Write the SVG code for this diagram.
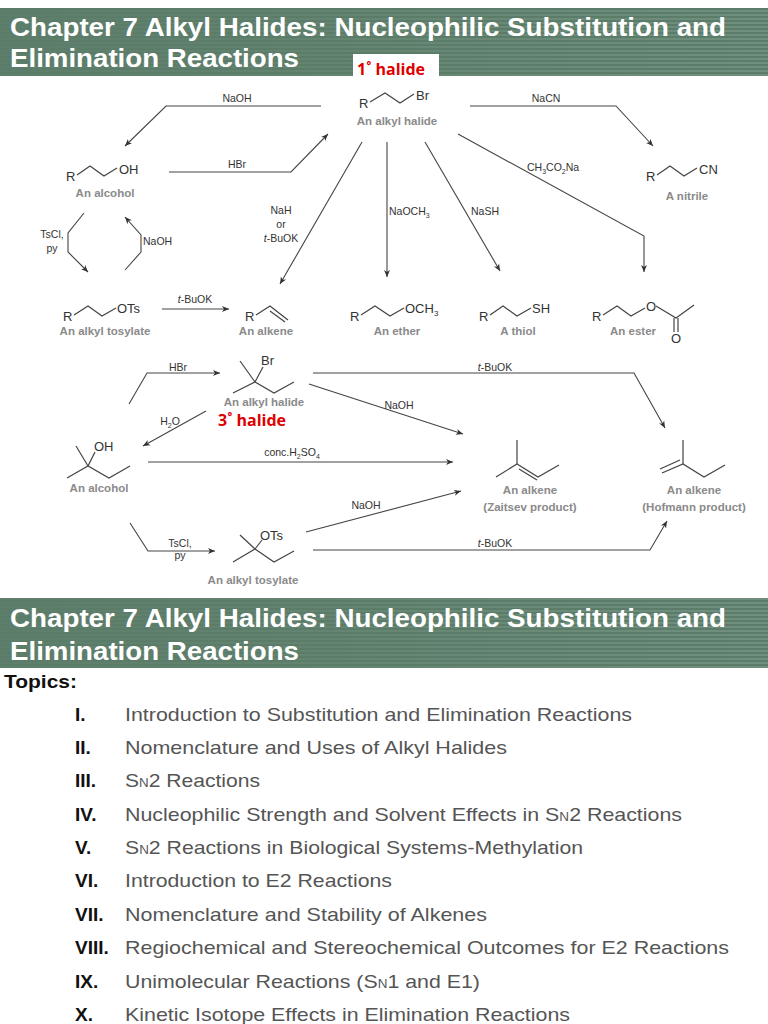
<svg xmlns="http://www.w3.org/2000/svg" width="768" height="1024" viewBox="0 0 768 1024">
<defs>
<pattern id="str" width="8" height="4" patternUnits="userSpaceOnUse"><rect width="8" height="4" fill="#5b7c69"/><rect y="2.5" width="8" height="1" fill="#86a293"/></pattern>
<linearGradient id="fade" x1="0" x2="1"><stop offset="0" stop-color="#5b7c69" stop-opacity="0.9"/><stop offset="0.4" stop-color="#5b7c69" stop-opacity="0.6"/><stop offset="1" stop-color="#5b7c69" stop-opacity="0"/></linearGradient>
<marker id="ah" markerWidth="8" markerHeight="8" refX="7" refY="4" orient="auto" markerUnits="userSpaceOnUse"><path d="M0,1 L7,4 L0,7 L2,4 Z" fill="#333"/></marker>
</defs>
<style>
.t{font-family:"Liberation Sans",Arial,sans-serif;font-weight:bold;fill:#fff;font-size:26px}
.lb{font-family:"Liberation Sans",Arial,sans-serif;font-size:10.5px;fill:#333}
.nm{font-family:"Liberation Sans",Arial,sans-serif;font-size:11.5px;font-weight:bold;fill:#8a8a8a;text-anchor:middle}
.at{font-family:"Liberation Sans",Arial,sans-serif;font-size:13px;fill:#333}
.red{font-family:"Open Sans","Liberation Sans",sans-serif;font-size:16px;font-weight:bold;fill:#e00000}
.bd{fill:none;stroke:#444;stroke-width:1.2}
.ar{fill:none;stroke:#444;stroke-width:1.1;marker-end:url(#ah)}
.tn{font-family:"Liberation Sans",Arial,sans-serif;font-size:19px;font-weight:bold;fill:#111}
.tx{font-family:"Liberation Sans",Arial,sans-serif;font-size:19px;fill:#555}
</style>
<rect width="768" height="1024" fill="#fff"/>
<g id="banner1">
<rect x="0" y="8" width="768" height="68" fill="url(#str)"/>
<rect x="0" y="8" width="768" height="68" fill="url(#fade)"/>
<text class="t" x="10" y="36" textLength="716" lengthAdjust="spacingAndGlyphs">Chapter 7 Alkyl Halides: Nucleophilic Substitution and</text>
<text class="t" x="10" y="67" textLength="289" lengthAdjust="spacingAndGlyphs">Elimination Reactions</text>
<rect x="353" y="54" width="86" height="26" fill="#fff"/>
<text class="red" x="357" y="75">1˚ halide</text>
</g>
<g id="connectors">
<polyline class="ar" points="321,106 166,106 125,146"/>
<polyline class="ar" points="169,172 291,172 328,134"/>
<polyline class="ar" points="470,106 616,106 653,146"/>
<polyline class="ar" points="362,142 280,284"/>
<polyline class="ar" points="387,142 387,277"/>
<polyline class="ar" points="425,142 500,271"/>
<polyline class="ar" points="458,134 644,236 644,272"/>
<polyline class="ar" points="84,213 68,233 68,252 88,272"/>
<polyline class="ar" points="125,270 141,252 141,235 125,217"/>
<polyline class="ar" points="162,309 229,309"/>
<polyline class="ar" points="129,404 147,373 220,373"/>
<polyline class="ar" points="206,411 143,446"/>
<polyline class="ar" points="148,462 453,462"/>
<polyline class="ar" points="309,384 463,434"/>
<polyline class="ar" points="313,373 634,373 665,428"/>
<polyline class="ar" points="130,523 148,551 215,551"/>
<polyline class="ar" points="306,532 461,491"/>
<polyline class="ar" points="313,550 650,550 667,521"/>
<text class="lb" x="237" y="102" text-anchor="middle">NaOH</text>
<text class="lb" x="237" y="168" text-anchor="middle">HBr</text>
<text class="lb" x="546" y="102" text-anchor="middle">NaCN</text>
<text class="lb" x="281" y="214" text-anchor="middle">NaH</text>
<text class="lb" x="281" y="228" text-anchor="middle">or</text>
<text class="lb" x="281" y="242" text-anchor="middle"><tspan font-style="italic">t</tspan>-BuOK</text>
<text class="lb" x="389" y="215">NaOCH<tspan font-size="7" dy="3">3</tspan></text>
<text class="lb" x="471" y="215">NaSH</text>
<text class="lb" x="527" y="171">CH<tspan font-size="7" dy="3">3</tspan><tspan dy="-3">CO</tspan><tspan font-size="7" dy="3">2</tspan><tspan dy="-3">Na</tspan></text>
<text class="lb" x="52" y="238" text-anchor="middle">TsCl,</text>
<text class="lb" x="52" y="252" text-anchor="middle">py</text>
<text class="lb" x="143" y="245">NaOH</text>
<text class="lb" x="195" y="303" text-anchor="middle"><tspan font-style="italic">t</tspan>-BuOK</text>
<text class="lb" x="178" y="371" text-anchor="middle">HBr</text>
<text class="lb" x="170" y="425" text-anchor="middle">H<tspan font-size="7" dy="3">2</tspan><tspan dy="-3">O</tspan></text>
<text class="lb" x="292" y="456" text-anchor="middle">conc.H<tspan font-size="7" dy="3">2</tspan><tspan dy="-3">SO</tspan><tspan font-size="7" dy="3">4</tspan></text>
<text class="lb" x="399" y="409" text-anchor="middle">NaOH</text>
<text class="lb" x="495" y="371" text-anchor="middle"><tspan font-style="italic">t</tspan>-BuOK</text>
<text class="lb" x="180" y="547" text-anchor="middle">TsCl,</text>
<text class="lb" x="180" y="559" text-anchor="middle">py</text>
<text class="lb" x="366" y="509" text-anchor="middle">NaOH</text>
<text class="lb" x="495" y="547" text-anchor="middle"><tspan font-style="italic">t</tspan>-BuOK</text>
</g>
<g id="alkyl-halide-1">
<text class="at" x="359" y="108">R</text>
<polyline class="bd" points="370,102 385,93 400,103 414,94"/>
<text class="at" x="416" y="100">Br</text>
<text class="nm" x="397" y="125">An alkyl halide</text>
</g>
<g id="alcohol-1">
<text class="at" x="66" y="181">R</text>
<polyline class="bd" points="77,175 90,166 104,176 117,168"/>
<text class="at" x="119" y="174">OH</text>
<text class="nm" x="105" y="197">An alcohol</text>
</g>
<g id="nitrile">
<text class="at" x="646" y="181">R</text>
<polyline class="bd" points="657,175 670,166 684,176 697,168"/>
<text class="at" x="699" y="174">CN</text>
<text class="nm" x="687" y="200">A nitrile</text>
</g>
<g id="tosylate-1">
<text class="at" x="63" y="321">R</text>
<polyline class="bd" points="74,315 88,306 102,316 116,308"/>
<text class="at" x="117" y="313">OTs</text>
<text class="nm" x="105" y="335">An alkyl tosylate</text>
</g>
<g id="alkene-1">
<text class="at" x="245" y="321">R</text>
<polyline class="bd" points="256,315 270,306 288,320"/>
<line class="bd" x1="270" y1="311" x2="285" y2="322"/>
<text class="nm" x="266" y="335">An alkene</text>
</g>
<g id="ether">
<text class="at" x="350" y="321">R</text>
<polyline class="bd" points="361,315 375,306 390,316 404,308"/>
<text class="at" x="405" y="313">OCH<tspan font-size="8" dy="3">3</tspan></text>
<text class="nm" x="397" y="335">An ether</text>
</g>
<g id="thiol">
<text class="at" x="479" y="321">R</text>
<polyline class="bd" points="490,315 503,306 517,316 531,308"/>
<text class="at" x="532" y="313">SH</text>
<text class="nm" x="518" y="335">A thiol</text>
</g>
<g id="ester">
<text class="at" x="592" y="321">R</text>
<polyline class="bd" points="603,315 617,306 631,316 645,308"/>
<text class="at" x="651" y="311" text-anchor="middle">O</text>
<polyline class="bd" points="656,306 676,318 694,305"/>
<line class="bd" x1="674" y1="318" x2="674" y2="332"/>
<line class="bd" x1="678" y1="318" x2="678" y2="332"/>
<text class="at" x="676" y="343" text-anchor="middle">O</text>
<text class="nm" x="633" y="335">An ester</text>
</g>
<g id="alkyl-halide-3">
<polyline class="bd" points="233,393 255,382 274,393 294,382"/>
<line class="bd" x1="240" y1="361" x2="255" y2="382"/>
<line class="bd" x1="255" y1="382" x2="263" y2="367"/>
<text class="at" x="261" y="365">Br</text>
<text class="nm" x="264" y="406">An alkyl halide</text>
<text class="red" x="218" y="426">3˚ halide</text>
</g>
<g id="alcohol-3">
<polyline class="bd" points="67,478 88,466 109,478 130,466"/>
<line class="bd" x1="76" y1="446" x2="88" y2="466"/>
<line class="bd" x1="88" y1="466" x2="95" y2="452"/>
<text class="at" x="94" y="451">OH</text>
<text class="nm" x="99" y="492">An alcohol</text>
</g>
<g id="zaitsev">
<line class="bd" x1="517" y1="440" x2="517" y2="464"/>
<polyline class="bd" points="496,477 517,464 538,477 559,465"/>
<line class="bd" x1="519" y1="469" x2="537" y2="480"/>
<text class="nm" x="530" y="494">An alkene</text>
<text class="nm" x="530" y="511">(Zaitsev product)</text>
</g>
<g id="hofmann">
<line class="bd" x1="683" y1="440" x2="683" y2="464"/>
<polyline class="bd" points="662,473 683,464 704,477 725,465"/>
<line class="bd" x1="660" y1="469" x2="680" y2="460"/>
<text class="nm" x="694" y="494">An alkene</text>
<text class="nm" x="694" y="511">(Hofmann product)</text>
</g>
<g id="tosylate-3">
<polyline class="bd" points="233,562 255,549 274,562 294,551"/>
<line class="bd" x1="240" y1="535" x2="255" y2="549"/>
<line class="bd" x1="255" y1="549" x2="262" y2="540"/>
<text class="at" x="260" y="540">OTs</text>
<text class="nm" x="253" y="584">An alkyl tosylate</text>
</g>
<g id="banner2">
<rect x="0" y="598" width="768" height="70" fill="url(#str)"/>
<rect x="0" y="598" width="768" height="70" fill="url(#fade)"/>
<text class="t" x="10" y="627" textLength="716" lengthAdjust="spacingAndGlyphs">Chapter 7 Alkyl Halides: Nucleophilic Substitution and</text>
<text class="t" x="10" y="660" textLength="289" lengthAdjust="spacingAndGlyphs">Elimination Reactions</text>
</g>
<g id="topics">
<text class="tn" x="4" y="688" font-size="18" textLength="73" lengthAdjust="spacingAndGlyphs">Topics:</text>
<text class="tn" x="75" y="721">I.</text>
<text class="tx" x="125" y="721" textLength="507" lengthAdjust="spacingAndGlyphs">Introduction to Substitution and Elimination Reactions</text>
<text class="tn" x="75" y="754">II.</text>
<text class="tx" x="125" y="754" textLength="382" lengthAdjust="spacingAndGlyphs">Nomenclature and Uses of Alkyl Halides</text>
<text class="tn" x="75" y="787">III.</text>
<text class="tx" x="125" y="787" textLength="135" lengthAdjust="spacingAndGlyphs">S<tspan font-size="12">N</tspan>2 Reactions</text>
<text class="tn" x="75" y="821">IV.</text>
<text class="tx" x="125" y="821" textLength="557" lengthAdjust="spacingAndGlyphs">Nucleophilic Strength and Solvent Effects in S<tspan font-size="12">N</tspan>2 Reactions</text>
<text class="tn" x="75" y="854">V.</text>
<text class="tx" x="125" y="854" textLength="458" lengthAdjust="spacingAndGlyphs">S<tspan font-size="12">N</tspan>2 Reactions in Biological Systems-Methylation</text>
<text class="tn" x="75" y="887">VI.</text>
<text class="tx" x="125" y="887" textLength="267" lengthAdjust="spacingAndGlyphs">Introduction to E2 Reactions</text>
<text class="tn" x="75" y="921">VII.</text>
<text class="tx" x="125" y="921" textLength="362" lengthAdjust="spacingAndGlyphs">Nomenclature and Stability of Alkenes</text>
<text class="tn" x="75" y="954">VIII.</text>
<text class="tx" x="125" y="954" textLength="604" lengthAdjust="spacingAndGlyphs">Regiochemical and Stereochemical Outcomes for E2 Reactions</text>
<text class="tn" x="75" y="988">IX.</text>
<text class="tx" x="125" y="988" textLength="355" lengthAdjust="spacingAndGlyphs">Unimolecular Reactions (S<tspan font-size="12">N</tspan>1 and E1)</text>
<text class="tn" x="75" y="1021">X.</text>
<text class="tx" x="125" y="1021" textLength="445" lengthAdjust="spacingAndGlyphs">Kinetic Isotope Effects in Elimination Reactions</text>
</g>
</svg>
